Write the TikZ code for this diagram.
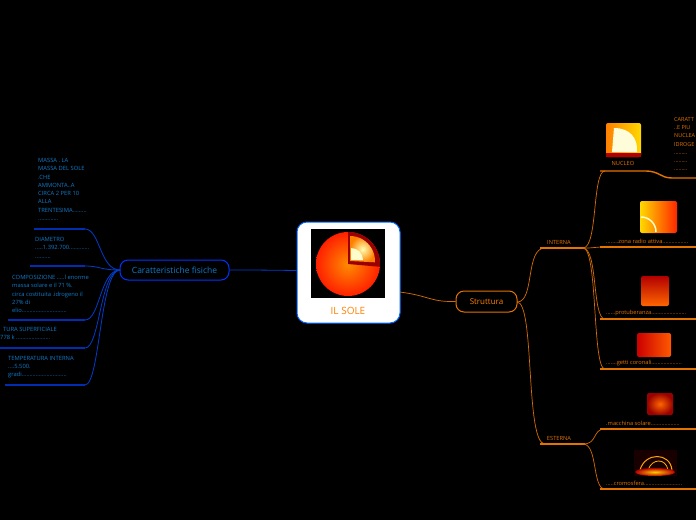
\documentclass[tikz,border=0pt]{standalone}
\usepackage{fontspec}
\setmainfont{Open Sans}
\begin{document}
\begin{tikzpicture}[x=1pt,y=-1pt,
 bl/.style={draw=blue!70!cyan!80!black, line width=0.8pt},
 blt/.style={draw=blue!75!cyan!70!black, line width=1.4pt},
 ol/.style={draw=orange!85!black, line width=0.7pt},
 olt/.style={draw=orange!90!black, line width=1.4pt},
 btx/.style={text=cyan!60!blue, font=\fontsize{5.8}{8.3}\selectfont, anchor=north west, inner sep=0pt, align=left},
 otx/.style={text=orange!90!black, font=\fontsize{5.7}{7}\selectfont, inner sep=0pt},
]
\useasboundingbox (0,0) rectangle (696,520);
\fill[black] (0,0) rectangle (696,520);
\clip (0,0) rectangle (696,520);
% central
\node[draw=blue!60!cyan, line width=1pt, fill=white, rounded corners=10pt, minimum width=103pt, minimum height=101pt] (sole) at (348.5,272.5) {};
\fill[black] (311,229) rectangle (385,298);
\shade[inner color=orange!90!yellow, outer color=red!75!orange] (348,264) circle (32);
\fill[red!60!black] (348,264) -- (348,232) arc (-90:5:32) -- cycle;
\shade[inner color=yellow!30!white, outer color=orange] (350,261) -- (350,236) arc (-90:3:25) -- cycle;
\fill[yellow!20!white] (351,260) -- (351,248) arc (-90:0:12) -- cycle;
\node[text=orange, font=\fontsize{10}{11}\selectfont] at (348,311) {IL SOLE};
% Caratteristiche
\node[draw=blue!80!cyan, line width=1pt, rounded corners=8pt, minimum width=109pt, minimum height=20pt, text=cyan!60!blue, font=\fontsize{8.5}{9}\selectfont] (car) at (174.5,270) {Caratteristiche fisiche};
\draw[bl] (sole.west) ++(0,-2) coordinate (sw) .. controls (260,270) and (250,270) .. (car.east);
% Struttura
\node[draw=orange!90!black, line width=1pt, rounded corners=8pt, minimum width=61pt, minimum height=21pt, text=orange, font=\fontsize{8}{9}\selectfont] (str) at (486.5,301.5) {Struttura};
\draw[ol] (400,292) .. controls (430,296) and (430,302) .. (str.west);
% left leaves
\coordinate (c0) at (120,270);
\foreach \y/\x in {229/34,266/30,320/8,348/0,385/5}{
  \draw[bl] (c0) .. controls (100,270) and (100,\y) .. (85,\y);
  \draw[blt] (85,\y) -- (\x,\y);
}
\node[btx] at (38,158) {MASSA . LA\\MASSA DEL SOLE\\.CHE\\AMMONTA..A\\CIRCA 2 PER 10\\ALLA\\TRENTESIMA.........\\.............};
\node[btx] at (35,237) {DIAMETRO\\.....1.392.700.............\\..........};
\node[btx] at (12,275) {COMPOSIZIONE .....l enorme\\massa solare e il 71 \%.\\circa costituita .idrogeno il\\27\% di\\elio.............................};
\node[btx, anchor=north east] at (57,327) {TURA SUPERFICIALE};
\node[btx] at (0,335) {778 k ......................};
\node[btx] at (8,356) {TEMPERATURA INTERNA\\....5.500.\\gradi.............................};
% right
\coordinate (sr) at (517,302);
\draw[ol] (sr) .. controls (535,302) and (525,248) .. (545,248);
\draw[olt] (540,248) -- (585,248);
\draw[ol] (sr) .. controls (535,302) and (525,444) .. (545,444);
\draw[olt] (540,444) -- (585,444);
\node[otx] at (559,242) {INTERNA};
\node[otx] at (559,438) {ESTERNA};
\coordinate (ci) at (583,248);
\coordinate (ce) at (583,444);
\draw[ol] (ci) .. controls (598,248) and (592,171) .. (605,171);
\draw[olt] (600,171) -- (645,171) .. controls (660,171) and (660,178) .. (672,178) -- (696,178);
\draw[ol] (ci) .. controls (598,248) and (592,247) .. (605,247);
\draw[olt] (600,247) -- (696,247);
\draw[ol] (ci) .. controls (598,248) and (592,319) .. (605,319);
\draw[olt] (600,319) -- (696,319);
\draw[ol] (ci) .. controls (598,248) and (592,369) .. (605,369);
\draw[olt] (600,369) -- (696,369);
\draw[ol] (ce) .. controls (598,444) and (592,429) .. (605,429);
\draw[olt] (600,429) -- (696,429);
\draw[ol] (ce) .. controls (598,444) and (592,489) .. (605,489);
\draw[olt] (600,489) -- (696,489);
% images
\shade[left color=orange, right color=yellow!70!orange, rounded corners=2pt] (606,123) rectangle (641,157);
\fill[yellow!15!white] (612,152) -- (614,128) .. controls (630,128) and (638,138) .. (637,152) -- cycle;
\fill[red!70!black] (606,153) rectangle (641,157);
\shade[left color=yellow!70!orange, right color=red!70!orange, rounded corners=2pt] (640,201) rectangle (677,233);
\draw[yellow!20!white, line width=1.5pt] (641,217) arc (-90:0:15);
\shade[top color=red!70!black, bottom color=orange!80!red, rounded corners=2pt] (641,276) rectangle (669,306);
\shade[left color=red!80!black, right color=orange!70!red, rounded corners=2pt] (637,333) rectangle (671,357);
\shade[inner color=orange!80!red, outer color=red!60!black, rounded corners=2pt] (647,393) rectangle (673,415);
\fill[black!90!red] (634,450) rectangle (677,476);
\draw[orange!70!yellow, line width=1pt] (640,470) .. controls (645,452) and (670,452) .. (672,470);
\draw[orange!60!yellow, line width=0.8pt] (648,470) .. controls (652,458) and (666,458) .. (668,470);
\shade[inner color=yellow!60!orange, outer color=red!70!black] (655,472) ellipse (20 and 4);
% labels
\node[otx] at (623,163) {NUCLEO};
\node[otx, anchor=north west, align=left, font=\fontsize{5.5}{8.3}\selectfont] at (674,117) {CARATT\\..E PIU\\NUCLEA\\IDROGE\\.........\\.........\\.........};
\node[otx, anchor=south west] at (606,244) {........zona radio attiva.................};
\node[otx, anchor=south west] at (606,316) {......protuberanza.......................};
\node[otx, anchor=south west] at (606,366) {.......getti coronali....................};
\node[otx, anchor=south west] at (606,426) {.macchina solare...................};
\node[otx, anchor=south west] at (606,486) {.....cromosfera.........................};
\end{tikzpicture}
\end{document}
